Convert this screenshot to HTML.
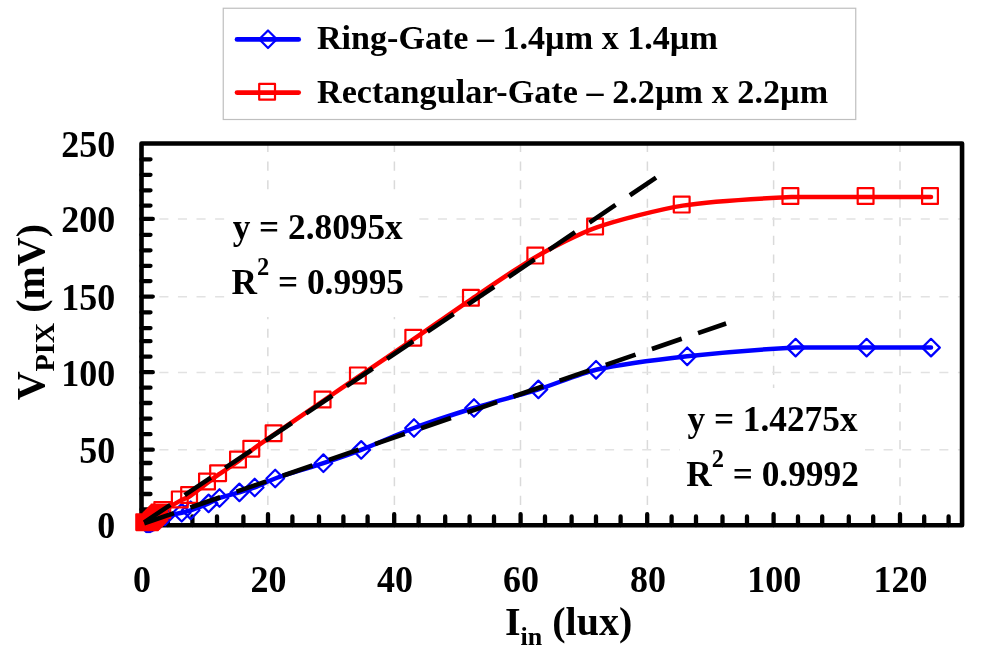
<!DOCTYPE html>
<html lang="en">
<head>
<meta charset="utf-8">
<title>VPIX vs Iin</title>
<style>
html,body{margin:0;padding:0;background:#fff;}
body{width:1000px;height:654px;overflow:hidden;}
svg{display:block;}
</style>
</head>
<body>
<svg width="1000" height="654" viewBox="0 0 1000 654">
<rect width="1000" height="654" fill="#fff"/>
<g stroke="#dadada" stroke-width="1.5" stroke-dasharray="9.07 9.5" fill="none">
<path d="M267.85 143.5V525.2" stroke-dashoffset="0.5"/>
<path d="M394.4 143.5V525.2" stroke-dashoffset="0.5"/>
<path d="M520.5 143.5V525.2" stroke-dashoffset="0.5"/>
<path d="M647.4 143.5V525.2" stroke-dashoffset="0.5"/>
<path d="M773.6 143.5V525.2" stroke-dashoffset="0.5"/>
<path d="M900 143.5V525.2" stroke-dashoffset="0.5"/>
<path d="M141.5 449.8H962.05" stroke-dashoffset="0.7" stroke="#e2e2e2"/>
<path d="M141.5 372.4H962.05" stroke-dashoffset="0.7" stroke="#e2e2e2"/>
<path d="M141.5 296.8H962.05" stroke-dashoffset="0.7" stroke="#e2e2e2"/>
<path d="M141.5 219.1H962.05" stroke-dashoffset="0.7" stroke="#e2e2e2"/>
</g>
<rect x="225" y="196" width="185" height="121" fill="#fff"/>
<rect x="680" y="388" width="185" height="120" fill="#fff"/>
<rect x="141.5" y="143.5" width="820.55" height="381.7" fill="none" stroke="#000" stroke-width="4.6" stroke-linejoin="round"/>
<g stroke="#000" stroke-width="4.3" stroke-linecap="round" fill="none">
<path d="M141.5 525.2H152.8M141.5 509.5H150.5M141.5 494H150.5M141.5 478.5H150.5M141.5 463H150.5M141.5 449.7H152.8M141.5 434.2H150.5M141.5 418.7H150.5M141.5 403H150.5M141.5 387.7H150.5M141.5 372.2H152.8M141.5 356.7H150.5M141.5 341.2H150.5M141.5 328.1H150.5M141.5 312.3H150.5M141.5 296.6H152.8M141.5 281.1H150.5M141.5 265.8H150.5M141.5 250.3H150.5M141.5 234.8H150.5M141.5 218.9H152.8M141.5 205.6H150.5M141.5 190.3H150.5M141.5 174.8H150.5M141.5 159.3H150.5M167.8 525.2V516.4M192.4 525.2V516.4M217 525.2V516.4M243.4 525.2V516.4M268 525.2V514.2M292.4 525.2V516.4M319 525.2V516.4M343.4 525.2V516.4M367.6 525.2V516.4M394.2 525.2V514.2M418.6 525.2V516.4M445.2 525.2V516.4M469.6 525.2V516.4M494 525.2V516.4M520.6 525.2V514.2M545 525.2V516.4M571.6 525.2V516.4M596 525.2V516.4M620.6 525.2V516.4M647.2 525.2V514.2M671.6 525.2V516.4M696 525.2V516.4M722.5 525.2V516.4M747 525.2V516.4M773.6 525.2V514.2M798 525.2V516.4M822.2 525.2V516.4M848.8 525.2V516.4M873.2 525.2V516.4M900 525.2V514.2M924.2 525.2V516.4M948.6 525.2V516.4"/>
</g>
<path d="M146.2 523.2C146.45 523.2 146.95 523.2 147.2 523.2C147.45 523.2 147.95 523.2 148.2 523.2C148.45 523.2 148.95 523.2 149.2 523.2C149.45 523.2 149.96 523.2 150.2 523.2C150.54 523.11 151.18 522.74 151.5 522.58C151.82 522.43 152.47 522.12 152.8 521.96C153.12 521.81 153.78 521.5 154.1 521.34C154.42 521.19 155.07 520.88 155.4 520.72C155.72 520.57 156.38 520.25 156.7 520.1C157.02 519.95 157.68 519.63 158 519.48C158.32 519.33 158.97 519.01 159.3 518.86C159.62 518.71 160.27 518.39 160.6 518.24C161.7 517.75 163.84 516.6 165 516.3C169.12 515.22 177.54 513.67 181.7 512.7C183.97 512.17 188.5 511.06 190.7 510.3C195.23 508.73 204.19 505.28 208.6 503.4C211.39 502.21 216.65 499.02 219.5 498C224.35 496.27 234.45 493.88 239.4 492.4C243.25 491.25 250.96 488.95 254.7 487.5C259.91 485.48 269.93 480.36 275.2 478.5C287.1 474.29 311.4 467.19 323.4 463.2C332.9 460.04 351.87 453.53 361.2 449.9C374.52 444.73 400.61 432.97 414 428C428.81 422.5 458.9 412.68 474 408C490 403.03 522.41 394.4 538.4 389.4C552.92 384.85 581.25 373.09 596.05 369.8C618.45 364.82 664.32 358.85 687.2 356.3C714.21 353.3 768.47 348.92 795.6 347.6C813.32 347.6 848.85 347.6 866.6 347.6C882.7 347.6 914.9 347.6 931 347.6" fill="none" stroke="#0000ff" stroke-width="4.5" stroke-linecap="round" stroke-linejoin="round"/>
<path d="M146.2 514.4l8.8 8.8l-8.8 8.8l-8.8 -8.8zM147.2 514.4l8.8 8.8l-8.8 8.8l-8.8 -8.8zM148.2 514.4l8.8 8.8l-8.8 8.8l-8.8 -8.8zM149.2 514.4l8.8 8.8l-8.8 8.8l-8.8 -8.8zM150.2 514.4l8.8 8.8l-8.8 8.8l-8.8 -8.8zM151.5 513.78l8.8 8.8l-8.8 8.8l-8.8 -8.8zM152.8 513.16l8.8 8.8l-8.8 8.8l-8.8 -8.8zM154.1 512.54l8.8 8.8l-8.8 8.8l-8.8 -8.8zM155.4 511.92l8.8 8.8l-8.8 8.8l-8.8 -8.8zM156.7 511.3l8.8 8.8l-8.8 8.8l-8.8 -8.8zM158 510.68l8.8 8.8l-8.8 8.8l-8.8 -8.8zM159.3 510.06l8.8 8.8l-8.8 8.8l-8.8 -8.8zM160.6 509.44l8.8 8.8l-8.8 8.8l-8.8 -8.8zM165 507.5l8.8 8.8l-8.8 8.8l-8.8 -8.8zM181.7 503.9l8.8 8.8l-8.8 8.8l-8.8 -8.8zM190.7 501.5l8.8 8.8l-8.8 8.8l-8.8 -8.8zM208.6 494.6l8.8 8.8l-8.8 8.8l-8.8 -8.8zM219.5 489.2l8.8 8.8l-8.8 8.8l-8.8 -8.8zM239.4 483.6l8.8 8.8l-8.8 8.8l-8.8 -8.8zM254.7 478.7l8.8 8.8l-8.8 8.8l-8.8 -8.8zM275.2 469.7l8.8 8.8l-8.8 8.8l-8.8 -8.8zM323.4 454.4l8.8 8.8l-8.8 8.8l-8.8 -8.8zM361.2 441.1l8.8 8.8l-8.8 8.8l-8.8 -8.8zM414 419.2l8.8 8.8l-8.8 8.8l-8.8 -8.8zM474 399.2l8.8 8.8l-8.8 8.8l-8.8 -8.8zM538.4 380.6l8.8 8.8l-8.8 8.8l-8.8 -8.8zM596.05 361l8.8 8.8l-8.8 8.8l-8.8 -8.8zM687.2 347.5l8.8 8.8l-8.8 8.8l-8.8 -8.8zM795.6 338.8l8.8 8.8l-8.8 8.8l-8.8 -8.8zM866.6 338.8l8.8 8.8l-8.8 8.8l-8.8 -8.8zM931 338.8l8.8 8.8l-8.8 8.8l-8.8 -8.8z" fill="none" stroke="#0000ff" stroke-width="2.2" stroke-linejoin="round"/>
<path d="M144.2 522.2C144.45 522.2 144.95 522.2 145.2 522.2C145.45 522.2 145.95 522.2 146.2 522.2C146.45 522.2 146.95 522.2 147.2 522.2C147.45 522.2 147.95 522.2 148.2 522.2C148.45 522.2 148.95 522.2 149.2 522.2C149.45 522.2 150 522.2 150.2 522.2C150.54 522.01 151.06 521.3 151.35 521C151.64 520.7 152.21 520.1 152.5 519.8C152.79 519.5 153.36 518.9 153.65 518.6C153.94 518.3 154.51 517.7 154.8 517.4C155.09 517.1 155.66 516.5 155.95 516.2C156.24 515.9 156.81 515.3 157.1 515C157.39 514.7 157.96 514.1 158.25 513.8C158.54 513.5 159.1 512.89 159.4 512.6C160.11 511.91 161.47 510.44 162.3 509.9C166.57 507.14 175.35 501.88 179.8 499.4C182.05 498.15 186.96 496.41 189.1 495C193.76 491.93 202.52 484.87 207 481.5C209.77 479.42 215.27 475.2 218.1 473.2C223.02 469.72 233.16 463.17 238 459.6C241.46 457.05 247.85 451.26 251.3 448.7C256.75 444.66 268.01 437.06 273.6 433.2C285.84 424.76 310.34 407.91 322.6 399.5C331.41 393.46 349.07 381.42 357.9 375.4C371.74 365.97 399.49 347.18 413.3 337.7C427.74 327.78 456.37 307.58 470.9 297.8C486.87 287.05 518.63 265.15 535.3 255.6C549.68 247.35 579.49 232.04 595.1 226.6C616.09 219.29 659.71 208.05 681.7 204.6C708.54 200.4 763.19 197.27 790.4 196C809.17 196 846.8 196 865.6 196C881.7 196 913.9 196 930 196" fill="none" stroke="#ff0000" stroke-width="4.5" stroke-linecap="round" stroke-linejoin="round" transform="translate(1 1)"/>
<path d="M136.3 514.3h15.8v15.8h-15.8zM137.3 514.3h15.8v15.8h-15.8zM138.3 514.3h15.8v15.8h-15.8zM139.3 514.3h15.8v15.8h-15.8zM140.3 514.3h15.8v15.8h-15.8zM141.3 514.3h15.8v15.8h-15.8zM142.3 514.3h15.8v15.8h-15.8zM143.45 513.1h15.8v15.8h-15.8zM144.6 511.9h15.8v15.8h-15.8zM145.75 510.7h15.8v15.8h-15.8zM146.9 509.5h15.8v15.8h-15.8zM148.05 508.3h15.8v15.8h-15.8zM149.2 507.1h15.8v15.8h-15.8zM150.35 505.9h15.8v15.8h-15.8zM151.5 504.7h15.8v15.8h-15.8zM154.4 502h15.8v15.8h-15.8zM171.9 491.5h15.8v15.8h-15.8zM181.2 487.1h15.8v15.8h-15.8zM199.1 473.6h15.8v15.8h-15.8zM210.2 465.3h15.8v15.8h-15.8zM230.1 451.7h15.8v15.8h-15.8zM243.4 440.8h15.8v15.8h-15.8zM265.7 425.3h15.8v15.8h-15.8zM314.7 391.6h15.8v15.8h-15.8zM350 367.5h15.8v15.8h-15.8zM405.4 329.8h15.8v15.8h-15.8zM463 289.9h15.8v15.8h-15.8zM527.4 247.7h15.8v15.8h-15.8zM587.2 218.7h15.8v15.8h-15.8zM673.8 196.7h15.8v15.8h-15.8zM782.5 188.1h15.8v15.8h-15.8zM857.7 188.1h15.8v15.8h-15.8zM922.1 188.1h15.8v15.8h-15.8z" fill="none" stroke="#ff0000" stroke-width="2.2" stroke-linejoin="round"/>
<g stroke="#000" stroke-width="4.6" stroke-dasharray="31.5 17.3" fill="none">
<path d="M144.2 522.4L657.2 176.9"/>
<path d="M144.2 523.3L726.1 323.5"/>
</g>
<g font-family="'Liberation Serif', 'Times New Roman', serif" font-weight="bold" fill="#000">
<g font-size="36" text-anchor="end">
<text transform="translate(115.3 538.4) scale(1 1.04)">0</text>
<text transform="translate(115.3 462.9) scale(1 1.04)">50</text>
<text transform="translate(115.3 385.5) scale(1 1.04)">100</text>
<text transform="translate(115.3 309.9) scale(1 1.04)">150</text>
<text transform="translate(115.3 232.2) scale(1 1.04)">200</text>
<text transform="translate(115.3 156.7) scale(1 1.04)">250</text>
</g>
<g font-size="36" text-anchor="middle">
<text transform="translate(142.1 591.5) scale(1 1.04)">0</text>
<text transform="translate(268.45 591.5) scale(1 1.04)">20</text>
<text transform="translate(395 591.5) scale(1 1.04)">40</text>
<text transform="translate(521.1 591.5) scale(1 1.04)">60</text>
<text transform="translate(648 591.5) scale(1 1.04)">80</text>
<text transform="translate(774.2 591.5) scale(1 1.04)">100</text>
<text transform="translate(900.6 591.5) scale(1 1.04)">120</text>
</g>
<text x="505" y="635.3" font-size="40">I<tspan font-size="26" dy="9.5">in</tspan><tspan dy="-9.5"> (lux)</tspan></text>
<text transform="translate(44.3 400.3) rotate(-90)" font-size="40">V<tspan font-size="28.2" dy="9.5">PIX</tspan><tspan dy="-9.5"> (mV)</tspan></text>
<g font-size="35.3" text-anchor="middle">
<text x="317.7" y="238.6">y = 2.8095x</text>
<text x="317.7" y="294">R<tspan font-size="24.5" dy="-18.8">2</tspan><tspan dy="18.8"> = 0.9995</tspan></text>
<text x="772.5" y="431">y = 1.4275x</text>
<text x="772.5" y="486.2">R<tspan font-size="24.5" dy="-18.8">2</tspan><tspan dy="18.8"> = 0.9992</tspan></text>
</g>
<rect x="223.25" y="8.25" width="632.5" height="111.25" fill="#fff" stroke="#bfbfbf" stroke-width="1.2"/>
<path d="M237 39.4H298.7" stroke="#0000ff" stroke-width="4.7" stroke-linecap="round"/>
<path d="M268 30.45l8.8 8.8l-8.8 8.8l-8.8 -8.8z" fill="none" stroke="#0000ff" stroke-width="2.2" stroke-linejoin="round"/>
<path d="M237 92.6H298.7" stroke="#ff0000" stroke-width="4.7" stroke-linecap="round"/>
<path d="M259.2 83.9h15.8v15.8h-15.8z" fill="none" stroke="#ff0000" stroke-width="2.2" stroke-linejoin="round"/>
<g font-size="34.1">
<text x="317" y="48.6">Ring-Gate – 1.4µm x 1.4µm</text>
<text x="317" y="102.6" letter-spacing="0.06">Rectangular-Gate – 2.2µm x 2.2µm</text>
</g>
</g>
</svg>
</body>
</html>
